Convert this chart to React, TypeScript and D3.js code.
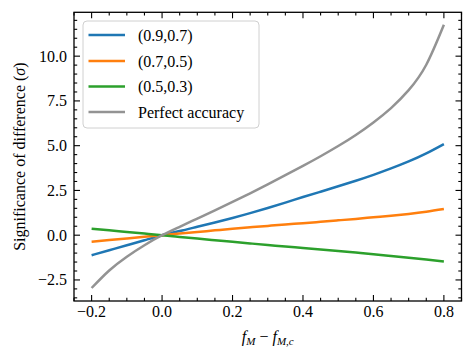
import React from "react";
import * as d3 from "d3";

const xs = [-0.2, -0.15, -0.1, -0.05, 0, 0.05, 0.1, 0.15, 0.2, 0.25, 0.3, 0.35, 0.4, 0.45, 0.5, 0.55, 0.6, 0.65, 0.7, 0.75, 0.8];
const blue = [-1.12, -0.84, -0.56, -0.28, 0, 0.23, 0.47, 0.71, 0.96, 1.23, 1.52, 1.82, 2.13, 2.43, 2.73, 3.04, 3.37, 3.73, 4.12, 4.57, 5.09];
const orange = [-0.36, -0.27, -0.18, -0.09, 0, 0.09, 0.18, 0.27, 0.36, 0.44, 0.52, 0.6, 0.67, 0.75, 0.83, 0.91, 1.0, 1.09, 1.19, 1.31, 1.46];
const green = [0.36, 0.27, 0.18, 0.09, 0, -0.095, -0.19, -0.28, -0.37, -0.46, -0.55, -0.63, -0.72, -0.8, -0.88, -0.97, -1.06, -1.16, -1.26, -1.36, -1.47];
const gray = [-2.95, -1.97, -1.2, -0.56, 0, 0.47, 0.93, 1.39, 1.86, 2.34, 2.84, 3.35, 3.87, 4.41, 4.98, 5.6, 6.3, 7.1, 8.1, 9.52, 11.75];

const seriesNames = ["(0.9,0.7)", "(0.7,0.5)", "(0.5,0.3)", "Perfect accuracy"];
const seriesColors = ["#1f77b4", "#ff7f0e", "#2ca02c", "#939393"];
const seriesValues = [blue, orange, green, gray];

const xTicks = [-0.2, 0, 0.2, 0.4, 0.6, 0.8];
const yTicks = [-2.5, 0, 2.5, 5, 7.5, 10];

const W = 474, H = 358;
const L = 74, R = 461.5, T = 12.3, B = 301;

export default function App() {
  const x = d3.scaleLinear().domain([-0.25, 0.85]).range([L, R]);
  const y = d3.scaleLinear().domain([-3.676, 12.45]).range([B, T]);
  const line = d3
    .line<number>()
    .x((_, i) => x(xs[i]))
    .y((d) => y(d))
    .curve(d3.curveNatural);

  const xMinor = d3.range(-0.25, 0.8501, 0.05).filter(
    (v) => !xTicks.some((t) => Math.abs(t - v) < 1e-6)
  );
  const yMinor = d3.range(-3.5, 12.45, 0.5).filter(
    (v) => !yTicks.some((t) => Math.abs(t - v) < 1e-6)
  );
  const fmt = (v: number) => d3.format(".1f")(v).replace("-", "\u2212");
  const font = "Liberation Serif, Times New Roman, serif";
  const maj = 6, mnr = 3.2;

  const legX = 83, legY = 21, legW = 176, legH = 107;
  const rowY = [35, 61, 86.5, 112];

  return (
    <svg
      width={W}
      height={H}
      style={{ position: "absolute", left: 0, top: 0, background: "#fff", fontFamily: font }}
    >
      {seriesValues.map((vals, i) => (
        <path
          key={i}
          d={line(vals) || ""}
          fill="none"
          stroke={seriesColors[i]}
          strokeWidth={2.5}
        />
      ))}
      <g stroke="#000" strokeWidth={1.1}>
        {xTicks.map((t) => (
          <g key={"xt" + t}>
            <line x1={x(t)} x2={x(t)} y1={B} y2={B - maj} />
            <line x1={x(t)} x2={x(t)} y1={T} y2={T + maj} />
          </g>
        ))}
        {xMinor.map((t) => (
          <g key={"xm" + t}>
            <line x1={x(t)} x2={x(t)} y1={B} y2={B - mnr} />
            <line x1={x(t)} x2={x(t)} y1={T} y2={T + mnr} />
          </g>
        ))}
        {yTicks.map((t) => (
          <g key={"yt" + t}>
            <line x1={L} x2={L + maj} y1={y(t)} y2={y(t)} />
            <line x1={R} x2={R - maj} y1={y(t)} y2={y(t)} />
          </g>
        ))}
        {yMinor.map((t) => (
          <g key={"ym" + t}>
            <line x1={L} x2={L + mnr} y1={y(t)} y2={y(t)} />
            <line x1={R} x2={R - mnr} y1={y(t)} y2={y(t)} />
          </g>
        ))}
      </g>
      <rect x={L} y={T} width={R - L} height={B - T} fill="none" stroke="#000" strokeWidth={1.3} />
      {xTicks.map((t) => (
        <text key={"xl" + t} x={x(t)} y={B + 16} fontSize={16} textAnchor="middle" style={{ fontFamily: font }}>
          {fmt(t)}
        </text>
      ))}
      {yTicks.map((t) => (
        <text key={"yl" + t} x={L - 7} y={y(t) + 5.5} fontSize={16} textAnchor="end" style={{ fontFamily: font }}>
          {fmt(t)}
        </text>
      ))}
      <text
        transform={`translate(25,${(T + B) / 2}) rotate(-90)`}
        fontSize={16}
        textAnchor="middle"
        style={{ fontFamily: font }}
      >
        Significance of difference (<tspan fontStyle="italic">σ</tspan>)
      </text>
      <text x={(L + R) / 2} y={342} fontSize={16} textAnchor="middle" style={{ fontFamily: font }}>
        <tspan fontStyle="italic">f</tspan>
        <tspan fontStyle="italic" fontSize={11} dy={3}>M</tspan>
        <tspan dy={-3}> − </tspan>
        <tspan fontStyle="italic">f</tspan>
        <tspan fontStyle="italic" fontSize={11} dy={3}>M,c</tspan>
      </text>
      <rect
        x={legX}
        y={legY}
        width={legW}
        height={legH}
        rx={4}
        fill="#fff"
        fillOpacity={0.8}
        stroke="#d0d0d0"
        strokeWidth={1}
      />
      {seriesNames.map((n, i) => (
        <g key={n}>
          <line x1={88.5} x2={125} y1={rowY[i]} y2={rowY[i]} stroke={seriesColors[i]} strokeWidth={2.5} />
          <text x={138} y={rowY[i] + 5.5} fontSize={16} style={{ fontFamily: font }}>
            {n}
          </text>
        </g>
      ))}
    </svg>
  );
}
